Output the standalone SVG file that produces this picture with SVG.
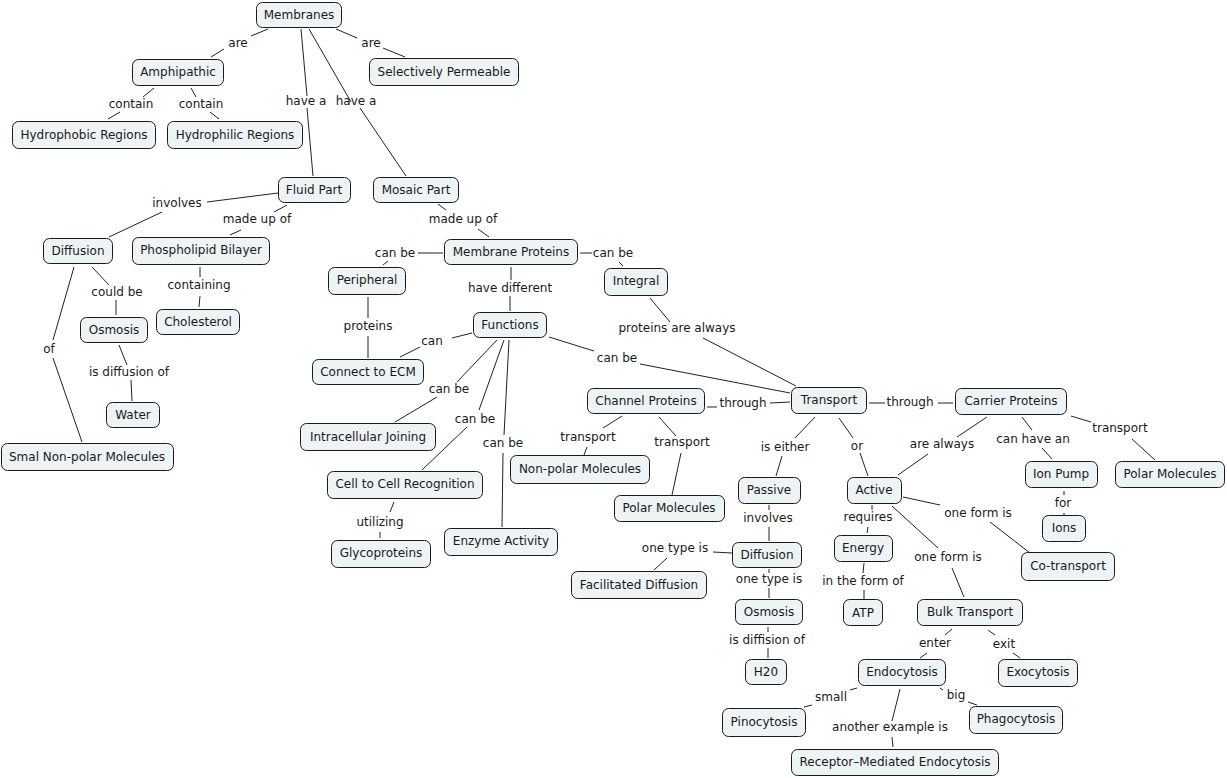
<svg xmlns="http://www.w3.org/2000/svg" width="1227" height="778" viewBox="0 0 1227 778">
<style>
.n rect{fill:#eef3f6;stroke:#1a1a1a;stroke-width:1}
text{font-family:"DejaVu Sans","Verdana",sans-serif;font-size:12px;fill:#1a1a1a;text-anchor:middle}
#connectors path{stroke:#222;stroke-width:1;fill:none}
</style>
<rect width="1227" height="778" fill="#fff"/>
<g id="connectors">
<path d="M268,29L251,36M224,49L211,57"/>
<path d="M336,29L357,38M383,48L405,57"/>
<path d="M154,88L143,97M120,112L108,119"/>
<path d="M191,88L196,97M210,112L219,119"/>
<path d="M301,29L307,96M307,108L313,176"/>
<path d="M309,29L351,102M360,108L406,176"/>
<path d="M278,193L207,202M162,212L109,237"/>
<path d="M287,205L274,212M241,230L230,235"/>
<path d="M200,267L200,277M200,296L199,307"/>
<path d="M92,267L109,285M116,300L116,315"/>
<path d="M119,345L127,365M131,380L132,401"/>
<path d="M74,267L53,340M53,358L82,442"/>
<path d="M438,204L446,210M478,229L489,237"/>
<path d="M443,253L418,253M388,261L383,265"/>
<path d="M580,253L592,253M619,262L623,266"/>
<path d="M511,267L511,280M510,296L510,311"/>
<path d="M368,297L368,318M368,336L368,358"/>
<path d="M472,333L452,338M420,347L400,357"/>
<path d="M497,340L457,382M437,397L395,422"/>
<path d="M504,340L479,410M467,427L422,470"/>
<path d="M509,340L504,435M503,453L502,527"/>
<path d="M549,337L594,351M640,364L790,393"/>
<path d="M650,298L670,322M703,338L796,386"/>
<path d="M394,502L390,512M380,532L380,538"/>
<path d="M622,416L603,428M587,447L584,455"/>
<path d="M659,417L676,436M681,453L672,495"/>
<path d="M707,407L717,407M770,403L790,402"/>
<path d="M869,403L885,403M938,403L953,403"/>
<path d="M815,417L795,438M782,456L776,476"/>
<path d="M839,418L853,438M860,453L868,476"/>
<path d="M769,505L769,510M769,527L769,541"/>
<path d="M732,553L713,552M667,558L654,570"/>
<path d="M769,569L769,573M769,588L769,598"/>
<path d="M768,627L768,632M768,648L768,658"/>
<path d="M872,505L872,510M868,527L867,533"/>
<path d="M864,563L863,573M864,590L864,599"/>
<path d="M903,497L940,505M990,522L1030,553"/>
<path d="M892,506L938,548M952,568L964,597"/>
<path d="M987,417L957,437M928,454L898,475"/>
<path d="M1022,417L1032,430M1042,448L1052,459"/>
<path d="M1071,416L1091,422M1132,439L1155,460"/>
<path d="M1064,491L1064,495M1064,513L1064,515"/>
<path d="M952,629L945,635M927,653L920,658"/>
<path d="M988,630L995,635M1013,653L1020,658"/>
<path d="M857,688L850,690M812,705L804,707"/>
<path d="M940,688L943,690M968,702L977,705"/>
<path d="M900,689L892,721M892,737L893,747"/>
</g>
<g id="labels">
<text x="238" y="47">are</text>
<text x="371" y="47">are</text>
<text x="131" y="108">contain</text>
<text x="201" y="108">contain</text>
<text x="306" y="105">have a</text>
<text x="356" y="105">have a</text>
<text x="177" y="207">involves</text>
<text x="257" y="223">made up of</text>
<text x="199" y="289">containing</text>
<text x="117" y="296">could be</text>
<text x="129" y="376">is diffusion of</text>
<text x="49" y="353">of</text>
<text x="463" y="223">made up of</text>
<text x="395" y="257">can be</text>
<text x="613" y="257">can be</text>
<text x="510" y="292">have different</text>
<text x="368" y="330">proteins</text>
<text x="432" y="345">can</text>
<text x="449" y="393">can be</text>
<text x="475" y="423">can be</text>
<text x="503" y="447">can be</text>
<text x="617" y="362">can be</text>
<text x="677" y="332">proteins are always</text>
<text x="380" y="526">utilizing</text>
<text x="588" y="441">transport</text>
<text x="682" y="446">transport</text>
<text x="743" y="407">through</text>
<text x="910" y="406">through</text>
<text x="785" y="451">is either</text>
<text x="857" y="450">or</text>
<text x="768" y="522">involves</text>
<text x="675" y="552">one type is</text>
<text x="769" y="583">one type is</text>
<text x="767" y="644">is diffision of</text>
<text x="868" y="521">requires</text>
<text x="863" y="585">in the form of</text>
<text x="978" y="517">one form is</text>
<text x="948" y="561">one form is</text>
<text x="942" y="448">are always</text>
<text x="1033" y="443">can have an</text>
<text x="1120" y="432">transport</text>
<text x="1063" y="507">for</text>
<text x="935" y="647">enter</text>
<text x="1004" y="648">exit</text>
<text x="831" y="701">small</text>
<text x="956" y="699">big</text>
<text x="890" y="731">another example is</text>
</g>
<g id="n-membranes" class="n"><rect x="256.5" y="2.5" width="85" height="25" rx="6"/><text x="299" y="19">Membranes</text></g>
<g id="n-amphipathic" class="n"><rect x="132.5" y="59.5" width="91" height="26" rx="6"/><text x="178" y="76">Amphipathic</text></g>
<g id="n-selectively" class="n"><rect x="369.5" y="58.5" width="149" height="27" rx="6"/><text x="444" y="76">Selectively Permeable</text></g>
<g id="n-hydrophobic" class="n"><rect x="12.5" y="121.5" width="143" height="27" rx="6"/><text x="84" y="139">Hydrophobic Regions</text></g>
<g id="n-hydrophilic" class="n"><rect x="167.5" y="121.5" width="135" height="27" rx="6"/><text x="235" y="139">Hydrophilic Regions</text></g>
<g id="n-fluid" class="n"><rect x="278.5" y="177.5" width="72" height="25" rx="6"/><text x="314" y="194">Fluid Part</text></g>
<g id="n-mosaic" class="n"><rect x="373.5" y="177.5" width="85" height="25" rx="6"/><text x="416" y="194">Mosaic Part</text></g>
<g id="n-diffusion1" class="n"><rect x="43.5" y="238.5" width="69" height="25" rx="6"/><text x="78" y="255">Diffusion</text></g>
<g id="n-phospholipid" class="n"><rect x="132.5" y="237.5" width="137" height="27" rx="6"/><text x="201" y="254">Phospholipid Bilayer</text></g>
<g id="n-cholesterol" class="n"><rect x="156.5" y="309.5" width="83" height="25" rx="6"/><text x="198" y="326">Cholesterol</text></g>
<g id="n-osmosis1" class="n"><rect x="80.5" y="317.5" width="67" height="25" rx="6"/><text x="114" y="334">Osmosis</text></g>
<g id="n-water" class="n"><rect x="106.5" y="402.5" width="53" height="25" rx="6"/><text x="133" y="419">Water</text></g>
<g id="n-smal" class="n"><rect x="1.5" y="443.5" width="172" height="27" rx="6"/><text x="87" y="461">Smal Non-polar Molecules</text></g>
<g id="n-membrane-proteins" class="n"><rect x="444.5" y="239.5" width="133" height="25" rx="6"/><text x="511" y="256">Membrane Proteins</text></g>
<g id="n-peripheral" class="n"><rect x="328.5" y="267.5" width="77" height="27" rx="6"/><text x="367" y="284">Peripheral</text></g>
<g id="n-integral" class="n"><rect x="604.5" y="268.5" width="63" height="27" rx="6"/><text x="636" y="285">Integral</text></g>
<g id="n-functions" class="n"><rect x="473.5" y="312.5" width="73" height="25" rx="6"/><text x="510" y="329">Functions</text></g>
<g id="n-ecm" class="n"><rect x="312.5" y="359.5" width="111" height="25" rx="6"/><text x="368" y="376">Connect to ECM</text></g>
<g id="n-intracellular" class="n"><rect x="300.5" y="423.5" width="135" height="27" rx="6"/><text x="368" y="441">Intracellular Joining</text></g>
<g id="n-cellcell" class="n"><rect x="327.5" y="471.5" width="155" height="27" rx="6"/><text x="405" y="488">Cell to Cell Recognition</text></g>
<g id="n-glycoproteins" class="n"><rect x="331.5" y="540.5" width="99" height="27" rx="6"/><text x="381" y="557">Glycoproteins</text></g>
<g id="n-enzyme" class="n"><rect x="444.5" y="528.5" width="113" height="27" rx="6"/><text x="501" y="545">Enzyme Activity</text></g>
<g id="n-channel" class="n"><rect x="587.5" y="388.5" width="117" height="25" rx="6"/><text x="646" y="405">Channel Proteins</text></g>
<g id="n-transport" class="n"><rect x="791.5" y="387.5" width="75" height="26" rx="6"/><text x="829" y="404">Transport</text></g>
<g id="n-carrier" class="n"><rect x="955.5" y="388.5" width="111" height="26" rx="6"/><text x="1011" y="405">Carrier Proteins</text></g>
<g id="n-nonpolar" class="n"><rect x="510.5" y="455.5" width="139" height="28" rx="6"/><text x="580" y="473">Non-polar Molecules</text></g>
<g id="n-polar1" class="n"><rect x="614.5" y="495.5" width="110" height="26" rx="6"/><text x="669" y="512">Polar Molecules</text></g>
<g id="n-passive" class="n"><rect x="738.5" y="477.5" width="62" height="26" rx="6"/><text x="769" y="494">Passive</text></g>
<g id="n-active" class="n"><rect x="847.5" y="477.5" width="54" height="26" rx="6"/><text x="874" y="494">Active</text></g>
<g id="n-ionpump" class="n"><rect x="1025.5" y="461.5" width="72" height="26" rx="6"/><text x="1061" y="478">Ion Pump</text></g>
<g id="n-polar2" class="n"><rect x="1115.5" y="461.5" width="109" height="26" rx="6"/><text x="1170" y="478">Polar Molecules</text></g>
<g id="n-ions" class="n"><rect x="1042.5" y="515.5" width="43" height="26" rx="6"/><text x="1064" y="532">Ions</text></g>
<g id="n-cotransport" class="n"><rect x="1021.5" y="552.5" width="93" height="28" rx="6"/><text x="1068" y="570">Co-transport</text></g>
<g id="n-energy" class="n"><rect x="834.5" y="535.5" width="58" height="26" rx="6"/><text x="863" y="552">Energy</text></g>
<g id="n-diffusion2" class="n"><rect x="732.5" y="542.5" width="69" height="25" rx="6"/><text x="767" y="559">Diffusion</text></g>
<g id="n-facilitated" class="n"><rect x="571.5" y="571.5" width="135" height="27" rx="6"/><text x="639" y="589">Facilitated Diffusion</text></g>
<g id="n-osmosis2" class="n"><rect x="735.5" y="599.5" width="67" height="25" rx="6"/><text x="769" y="616">Osmosis</text></g>
<g id="n-atp" class="n"><rect x="843.5" y="599.5" width="39" height="26" rx="6"/><text x="863" y="617">ATP</text></g>
<g id="n-bulk" class="n"><rect x="917.5" y="599.5" width="105" height="26" rx="6"/><text x="970" y="616">Bulk Transport</text></g>
<g id="n-h20" class="n"><rect x="745.5" y="659.5" width="41" height="25" rx="6"/><text x="766" y="676">H20</text></g>
<g id="n-endocytosis" class="n"><rect x="858.5" y="659.5" width="87" height="26" rx="6"/><text x="902" y="676">Endocytosis</text></g>
<g id="n-exocytosis" class="n"><rect x="998.5" y="659.5" width="79" height="27" rx="6"/><text x="1038" y="676">Exocytosis</text></g>
<g id="n-pinocytosis" class="n"><rect x="722.5" y="708.5" width="83" height="28" rx="6"/><text x="764" y="726">Pinocytosis</text></g>
<g id="n-phagocytosis" class="n"><rect x="969.5" y="706.5" width="93" height="27" rx="6"/><text x="1016" y="723">Phagocytosis</text></g>
<g id="n-receptor" class="n"><rect x="791.5" y="749.5" width="207" height="26" rx="6"/><text x="895" y="766">Receptor–Mediated Endocytosis</text></g>
</svg>
